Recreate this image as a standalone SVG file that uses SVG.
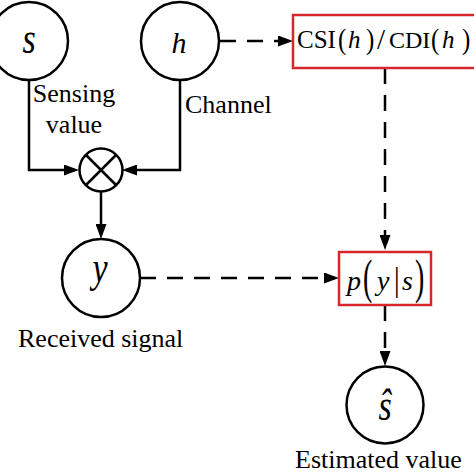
<svg xmlns="http://www.w3.org/2000/svg" width="474" height="474" viewBox="0 0 474 474">
<style>
  .node { fill: #fff; stroke: #000; stroke-width: 2.5; }
  .box { fill: #fff; stroke: #d7262c; stroke-width: 2.5; }
  .conn { fill: none; stroke: #000; stroke-width: 2.5; }
  .dash { stroke-dasharray: 16 11; }
  .lbl { font-family: "Liberation Serif", "Times New Roman", serif; font-size: 26px; fill: #000; }
  .mi { font-family: "Liberation Serif", "Times New Roman", serif; font-style: italic; fill: #000; }
  .mr { font-family: "Liberation Serif", "Times New Roman", serif; fill: #000; }
</style>
<defs>
  <marker id="arr" markerUnits="userSpaceOnUse" markerWidth="15" markerHeight="11" refX="0" refY="5.5" orient="auto">
    <path d="M0,0 L15,5.5 L0,11 z" fill="#000"/>
  </marker>
</defs>
<rect width="474" height="474" fill="#fff"/>

<g id="connectors">
  <path class="conn" d="M29,80 V170 H64" marker-end="url(#arr)"/>
  <path class="conn" d="M180,80 V170 H137" marker-end="url(#arr)"/>
  <path class="conn" d="M101,192 V224" marker-end="url(#arr)"/>
  <path class="conn dash" d="M220,41 H278" marker-end="url(#arr)"/>
  <path class="conn dash" d="M385,68 V235" marker-end="url(#arr)"/>
  <path class="conn dash" d="M140,278 H324" marker-end="url(#arr)"/>
  <path class="conn dash" d="M385,305 V351" marker-end="url(#arr)"/>
</g>

<g id="node-s">
  <circle class="node" cx="29" cy="41" r="39"/>
  <text class="mi" font-size="34" text-anchor="middle" transform="translate(29,53) scale(1,1.3)">s</text>
  <text class="lbl" x="74" y="102" text-anchor="middle">Sensing</text>
  <text class="lbl" x="74" y="133" text-anchor="middle">value</text>
</g>

<g id="node-h">
  <circle class="node" cx="180" cy="41" r="39"/>
  <text class="mi" font-size="30" x="179" y="53" text-anchor="middle">h</text>
  <text class="lbl" x="185" y="113">Channel</text>
</g>

<g id="node-mult">
  <circle class="node" cx="101" cy="170" r="21.5"/>
  <path class="conn" d="M86,155 L116,185 M116,155 L86,185"/>
</g>

<g id="node-y">
  <circle class="node" cx="101" cy="278" r="39"/>
  <text class="mi" font-size="34" text-anchor="middle" transform="translate(100,282) scale(1,1.3)">y</text>
  <text class="lbl" x="18" y="347">Received signal</text>
</g>

<g id="node-csi">
  <rect class="box" x="293" y="15" width="190" height="53"/>
  <text class="mr" font-size="25" x="297" y="48">CSI</text>
  <text class="mr" font-size="25" transform="translate(338,49) scale(1,1.18)">(</text>
  <text class="mi" font-size="25" x="348" y="48">h</text>
  <text class="mr" font-size="25" transform="translate(366,49) scale(1,1.18)">)</text>
  <text class="mr" font-size="29" x="377" y="49">/</text>
  <text class="mr" font-size="24" x="389" y="48">CDI</text>
  <text class="mr" font-size="25" transform="translate(431,49) scale(1,1.18)">(</text>
  <text class="mi" font-size="25" x="442" y="48">h</text>
  <text class="mr" font-size="25" transform="translate(462,49) scale(1,1.18)">)</text>
</g>

<g id="node-p">
  <rect class="box" x="339" y="252" width="92" height="53"/>
  <text class="mi" font-size="28" x="347" y="290">p</text>
  <text class="mr" font-size="28" transform="translate(363,293) scale(1,1.7)">(</text>
  <text class="mi" font-size="28" x="377" y="290">y</text>
  <text class="mr" font-size="28" transform="translate(394,291) scale(1,1.24)">|</text>
  <text class="mi" font-size="28" x="402" y="290">s</text>
  <text class="mr" font-size="28" transform="translate(415,293) scale(1,1.7)">)</text>
</g>

<g id="node-shat">
  <circle class="node" cx="385" cy="405" r="38.5"/>
  <text class="mi" font-size="34" text-anchor="middle" transform="translate(385,420) scale(1,1.3)">ŝ</text>
  <text class="lbl" x="295" y="468">Estimated value</text>
</g>
</svg>
